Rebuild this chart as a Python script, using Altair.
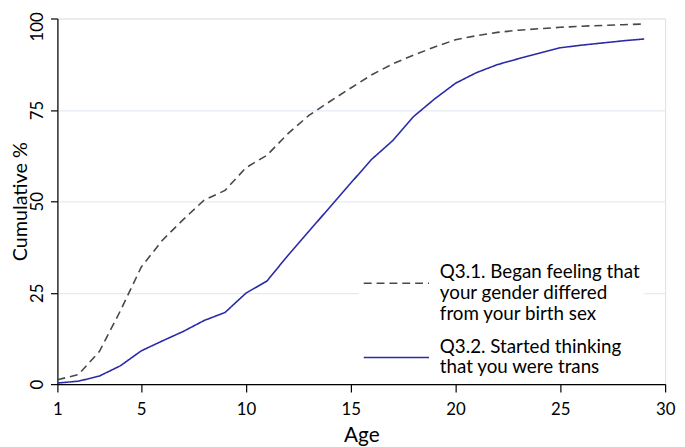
import altair as alt
import pandas as pd

ages = list(range(1, 30))
q31 = [1.2, 2.6, 8.9, 20.0, 32.0, 39.3, 45.0, 50.3, 53.0, 59.2, 62.6, 68.5, 73.5,
       77.3, 81.0, 84.6, 87.6, 90.0, 92.2, 94.2, 95.3, 96.2, 96.8, 97.2, 97.6,
       97.9, 98.1, 98.3, 98.5]
q32 = [0.3, 0.8, 2.2, 5.0, 9.1, 11.8, 14.4, 17.4, 19.6, 24.9, 28.2, 35.2, 41.8,
       48.4, 55.0, 61.5, 66.6, 73.2, 78.0, 82.3, 85.2, 87.4, 89.0, 90.5, 92.0,
       92.7, 93.3, 93.9, 94.4]
series_names = ["Q3.1. Began feeling that|your gender differed|from your birth sex",
                "Q3.2. Started thinking|that you were trans"]
x_ticks = [1, 5, 10, 15, 20, 25, 30]
y_ticks = [0, 25, 50, 75, 100]

rows = []
for a, v in zip(ages, q31):
    rows.append({"Age": a, "pct": v, "series": series_names[0]})
for a, v in zip(ages, q32):
    rows.append({"Age": a, "pct": v, "series": series_names[1]})
df = pd.DataFrame(rows)

FONT = "Lato"

chart = alt.Chart(df).mark_line(strokeWidth=1.6).encode(
    x=alt.X("Age:Q", scale=alt.Scale(domain=[1, 30], nice=False, zero=False),
            axis=alt.Axis(values=x_ticks, title="Age", grid=False, tickSize=8,
                          labelFlush=False, zindex=2,
                          labelPadding=10, titlePadding=7, labelFontSize=17,
                          titleFontSize=21, labelFont=FONT, titleFont=FONT,
                          labelColor="black", titleColor="black",
                          titleFontWeight="normal", domainColor="black",
                          tickColor="black", domainWidth=1.2, tickWidth=1.2)),
    y=alt.Y("pct:Q", scale=alt.Scale(domain=[0, 100], nice=False),
            axis=alt.Axis(values=y_ticks, title="Cumulative %", grid=True,
                          gridColor="#e3ebf2", gridWidth=1.2, tickSize=7,
                          labelFlush=False,
                          labelAngle=270, labelAlign="center", labelBaseline="bottom",
                          labelOffset={"condition": {"test": "datum.value == 100", "value": 8},
                                       "value": 0},
                          labelPadding=4, titlePadding=-2, labelFontSize=17,
                          titleFontSize=20, labelFont=FONT, titleFont=FONT,
                          labelColor="black", titleColor="black",
                          titleFontWeight="normal", domainColor="black",
                          tickColor="black", domainWidth=1.2, tickWidth=1.2)),
    color=alt.Color("series:N",
                    scale=alt.Scale(domain=series_names, range=["#484848", "#2a2aa8"]),
                    legend=alt.Legend(title=None, orient="none", legendX=305, legendY=230,
                                      fillColor="white", padding=4, symbolType="stroke",
                                      symbolSize=4356, symbolStrokeWidth=1.6,
                                      labelFontSize=19, labelFont=FONT, labelColor="black",
                                      labelBaseline="line-bottom",
                                      labelExpr="split(datum.label, '|')",
                                      labelLimit=400, rowPadding=0, labelOffset=10,
                                      zindex=1)),
    strokeDash=alt.StrokeDash("series:N",
                              scale=alt.Scale(domain=series_names, range=[[8, 5], [1, 0]]),
                              legend=None),
).properties(
    width=615, height=370,
    autosize=alt.AutoSizeParams(type="none"),
    padding={"left": 50, "top": 8, "right": 12, "bottom": 61},
).configure_view(stroke=None).configure(background="white")

chart.save("out.html", embed_options={"renderer": "svg", "actions": False})
